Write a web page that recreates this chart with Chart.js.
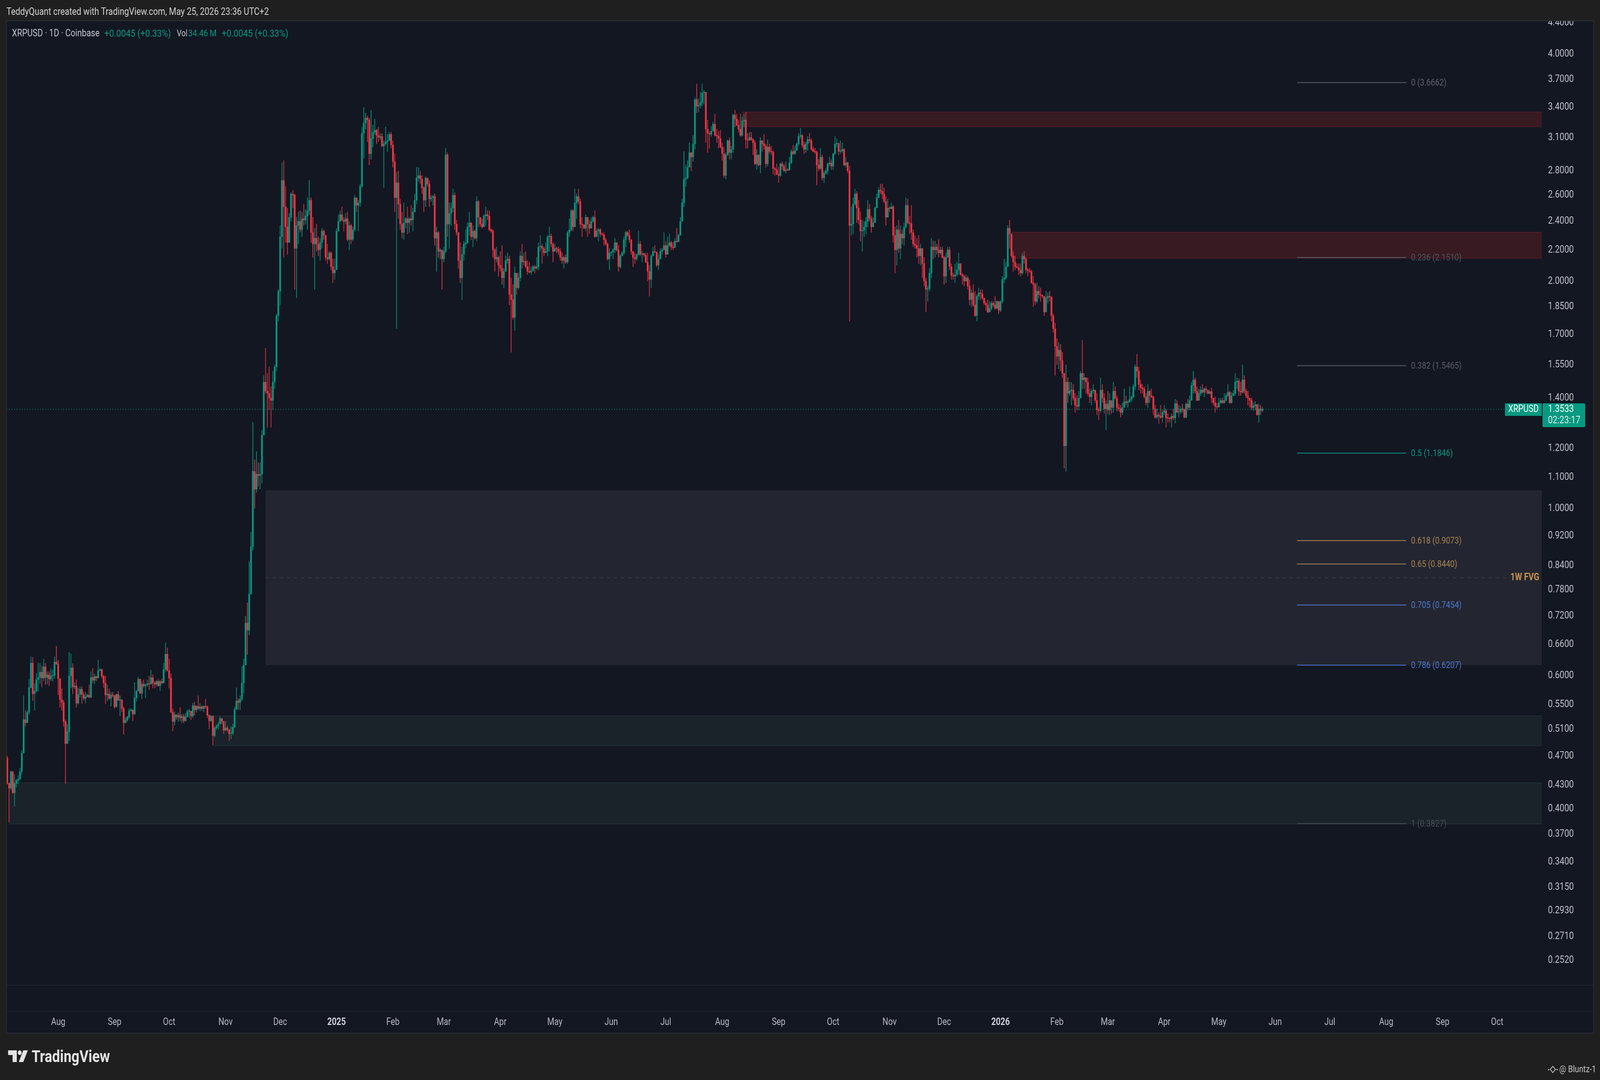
<!DOCTYPE html>
<html>
<head>
<meta charset="utf-8">
<script src="https://cdn.jsdelivr.net/npm/chart.js@4.4.1/dist/chart.umd.min.js"></script>
<style>
html,body{margin:0;padding:0;background:#1f1f1f;overflow:hidden}
#frame{position:relative;overflow:hidden}
#wrap{position:absolute;left:0;top:0;width:4950px;height:2766px;transform-origin:0 0}
canvas{display:block}
</style>
</head>
<body>
<div id="frame"><div id="wrap"><canvas id="chart" width="4950" height="2766" style="width:4950px;height:2766px"></canvas></div></div>
<script>
// XRPUSD 1D candles, one per day starting 2024-07-04 (open = previous close)
const firstDate = '2024-07-04';
const firstOpen = 0.467;
const closes = [
0.432,0.426,0.448,0.420,0.432,0.436,0.438,0.448,0.474,0.525,
0.520,0.537,0.579,0.624,0.568,0.573,0.593,0.597,0.607,0.596,
0.617,0.597,0.602,0.594,0.600,0.601,0.626,0.622,0.595,0.558,
0.553,0.522,0.488,0.506,0.600,0.615,0.580,0.582,0.552,0.567,
0.576,0.567,0.560,0.563,0.566,0.562,0.597,0.592,0.599,0.596,
0.610,0.612,0.599,0.587,0.566,0.568,0.560,0.566,0.565,0.546,
0.567,0.557,0.558,0.543,0.520,0.524,0.529,0.539,0.541,0.534,
0.561,0.573,0.594,0.569,0.585,0.582,0.584,0.586,0.585,0.597,
0.587,0.585,0.590,0.582,0.590,0.587,0.612,0.641,0.610,0.596,
0.537,0.522,0.533,0.529,0.532,0.528,0.530,0.523,0.530,0.538,
0.539,0.531,0.548,0.541,0.547,0.543,0.546,0.543,0.547,0.546,
0.532,0.523,0.531,0.500,0.512,0.515,0.518,0.527,0.522,0.508,
0.512,0.509,0.503,0.504,0.513,0.542,0.556,0.553,0.559,0.587,
0.620,0.705,0.690,0.770,0.890,1.120,1.060,1.110,1.105,1.110,
1.250,1.470,1.430,1.420,1.400,1.390,1.470,1.540,1.800,1.940,
2.290,2.720,2.510,2.360,2.250,2.430,2.610,2.600,2.210,2.370,
2.400,2.340,2.420,2.410,2.440,2.480,2.560,2.320,2.240,2.280,
2.240,2.200,2.250,2.330,2.300,2.150,2.140,2.180,2.090,2.050,
2.070,2.330,2.400,2.450,2.410,2.400,2.420,2.270,2.370,2.270,
2.340,2.580,2.520,2.540,2.670,3.140,3.240,3.290,3.270,2.950,
3.090,3.150,3.170,3.120,3.100,3.110,3.020,3.040,3.060,3.070,
3.130,3.030,2.880,2.580,2.700,2.530,2.380,2.320,2.390,2.420,
2.390,2.420,2.410,2.470,2.560,2.740,2.760,2.730,2.660,2.560,
2.740,2.690,2.570,2.580,2.590,2.280,2.320,2.190,2.200,2.140,
2.190,2.940,2.380,2.460,2.500,2.600,2.380,2.320,2.130,2.020,
2.170,2.240,2.250,2.360,2.390,2.290,2.330,2.280,2.550,2.430,
2.380,2.360,2.440,2.450,2.440,2.340,2.330,2.200,2.140,2.150,
2.100,2.080,2.020,2.060,2.130,2.140,1.920,1.890,1.790,2.050,
1.960,2.020,2.160,2.120,2.125,2.090,2.060,2.055,2.065,2.090,
2.080,2.090,2.220,2.225,2.210,2.180,2.190,2.290,2.295,2.240,
2.190,2.210,2.205,2.190,2.150,2.130,2.150,2.120,2.320,2.340,
2.480,2.360,2.540,2.590,2.550,2.380,2.375,2.350,2.430,2.380,
2.350,2.400,2.430,2.290,2.330,2.340,2.310,2.305,2.270,2.240,
2.140,2.180,2.185,2.200,2.250,2.200,2.090,2.160,2.180,2.270,
2.320,2.300,2.270,2.190,2.150,2.140,2.170,2.240,2.170,2.175,
2.165,2.120,2.060,2.010,2.160,2.190,2.185,2.100,2.140,2.190,
2.200,2.230,2.170,2.230,2.250,2.220,2.215,2.260,2.255,2.300,
2.400,2.540,2.730,2.740,2.830,2.960,2.920,3.040,3.480,3.410,
3.420,3.450,3.550,3.560,3.180,3.140,3.130,3.160,3.230,3.120,
3.115,3.090,3.010,2.950,2.760,2.940,3.070,2.960,2.990,3.320,
3.280,3.220,3.180,3.120,3.260,3.270,3.080,3.075,3.100,3.080,
3.050,2.860,2.940,2.850,3.070,3.040,3.020,2.860,3.010,2.970,
2.965,2.820,2.810,2.770,2.760,2.860,2.840,2.800,2.810,2.805,
2.870,2.970,2.950,2.980,3.040,3.110,3.120,3.030,2.990,3.040,
3.080,3.070,2.990,2.970,2.965,2.850,2.820,2.920,2.740,2.780,
2.800,2.860,2.870,2.840,2.950,3.040,3.045,2.970,2.975,2.990,
2.850,2.870,2.800,2.370,2.380,2.530,2.610,2.500,2.410,2.330,
2.335,2.360,2.400,2.490,2.420,2.360,2.390,2.500,2.580,2.640,
2.630,2.610,2.550,2.430,2.500,2.495,2.510,2.300,2.200,2.340,
2.210,2.310,2.280,2.360,2.520,2.390,2.385,2.320,2.240,2.230,
2.210,2.160,2.210,2.110,2.000,1.950,1.955,2.050,2.220,2.200,
2.220,2.200,2.180,2.200,2.150,2.030,2.150,2.200,2.090,2.035,
2.030,2.040,2.070,2.110,2.040,2.030,2.000,2.020,1.970,1.890,
1.930,1.860,1.800,1.910,1.930,1.925,1.900,1.870,1.860,1.820,
1.840,1.870,1.860,1.840,1.880,1.830,1.880,2.010,2.020,2.090,
2.350,2.310,2.160,2.120,2.090,2.085,2.070,2.050,2.160,2.140,
2.070,2.065,2.060,1.990,1.980,1.880,1.940,1.920,1.915,1.910,
1.820,1.900,1.910,1.905,1.800,1.730,1.640,1.590,1.620,1.570,
1.510,1.210,1.470,1.420,1.430,1.435,1.400,1.370,1.365,1.400,
1.510,1.480,1.490,1.470,1.420,1.405,1.430,1.435,1.390,1.350,
1.347,1.435,1.400,1.355,1.375,1.350,1.390,1.360,1.430,1.400,
1.360,1.355,1.340,1.360,1.385,1.380,1.385,1.395,1.405,1.450,
1.540,1.520,1.460,1.445,1.440,1.405,1.380,1.430,1.410,1.405,
1.355,1.320,1.330,1.325,1.320,1.340,1.347,1.318,1.316,1.314,
1.325,1.318,1.377,1.340,1.343,1.355,1.352,1.320,1.375,1.360,
1.390,1.455,1.480,1.430,1.390,1.420,1.435,1.425,1.440,1.435,
1.420,1.428,1.400,1.380,1.365,1.362,1.380,1.390,1.380,1.390,
1.410,1.425,1.380,1.410,1.420,1.470,1.475,1.430,1.425,1.480,
1.430,1.410,1.400,1.390,1.360,1.367,1.372,1.330,1.355,1.348,1.3533
];
const highs = [
0.470,0.433,0.449,0.449,0.444,0.438,0.443,0.453,0.478,0.565,
0.540,0.540,0.594,0.636,0.635,0.586,0.605,0.624,0.624,0.619,
0.632,0.624,0.608,0.608,0.613,0.611,0.636,0.657,0.629,0.595,
0.577,0.557,0.525,0.518,0.645,0.642,0.623,0.588,0.593,0.578,
0.581,0.581,0.571,0.571,0.568,0.584,0.608,0.614,0.604,0.600,
0.630,0.614,0.613,0.601,0.600,0.584,0.577,0.571,0.571,0.566,
0.568,0.573,0.565,0.558,0.546,0.529,0.531,0.543,0.543,0.541,
0.588,0.574,0.598,0.595,0.590,0.593,0.586,0.593,0.600,0.611,
0.603,0.590,0.592,0.594,0.592,0.595,0.624,0.664,0.654,0.632,
0.604,0.543,0.538,0.533,0.536,0.545,0.534,0.534,0.535,0.541,
0.542,0.539,0.552,0.554,0.548,0.565,0.552,0.548,0.548,0.559,
0.548,0.533,0.532,0.531,0.514,0.517,0.521,0.530,0.527,0.523,
0.523,0.515,0.510,0.514,0.518,0.546,0.579,0.560,0.565,0.618,
0.632,0.720,0.750,0.850,0.930,1.300,1.160,1.190,1.150,1.150,
1.270,1.500,1.630,1.510,1.540,1.450,1.520,1.550,1.810,1.950,
2.370,2.870,2.890,2.670,2.500,2.460,2.620,2.640,2.610,2.430,
2.470,2.480,2.470,2.530,2.490,2.580,2.720,2.580,2.430,2.350,
2.380,2.290,2.280,2.350,2.340,2.300,2.240,2.190,2.190,2.140,
2.140,2.350,2.450,2.480,2.510,2.430,2.460,2.470,2.400,2.380,
2.360,2.600,2.570,2.560,2.690,3.200,3.400,3.340,3.310,3.290,
3.370,3.220,3.280,3.180,3.200,3.140,3.140,3.070,3.200,3.130,
3.150,3.150,3.070,2.950,2.790,2.800,2.570,2.470,2.540,2.430,
2.510,2.430,2.520,2.500,2.610,2.830,2.830,2.800,2.760,2.670,
2.750,2.740,2.720,2.600,2.600,2.610,2.360,2.330,2.210,2.200,
2.220,3.000,2.960,2.540,2.540,2.650,2.620,2.410,2.310,2.250,
2.220,2.260,2.340,2.390,2.470,2.390,2.370,2.340,2.590,2.560,
2.430,2.420,2.450,2.510,2.480,2.480,2.350,2.340,2.210,2.220,
2.160,2.190,2.230,2.080,2.160,2.180,2.160,2.020,1.980,2.090,
2.050,2.050,2.190,2.240,2.180,2.190,2.130,2.120,2.090,2.100,
2.100,2.150,2.250,2.300,2.240,2.220,2.250,2.300,2.360,2.310,
2.250,2.240,2.220,2.220,2.210,2.180,2.160,2.170,2.330,2.420,
2.490,2.490,2.650,2.610,2.650,2.570,2.430,2.380,2.450,2.430,
2.410,2.430,2.440,2.480,2.350,2.350,2.350,2.320,2.320,2.280,
2.250,2.210,2.190,2.210,2.280,2.250,2.230,2.170,2.190,2.290,
2.330,2.330,2.340,2.270,2.190,2.180,2.175,2.330,2.260,2.190,
2.180,2.180,2.180,2.100,2.170,2.220,2.230,2.190,2.170,2.210,
2.210,2.320,2.260,2.290,2.310,2.260,2.250,2.280,2.350,2.310,
2.430,2.570,2.970,2.850,2.890,3.050,2.960,3.120,3.500,3.650,
3.490,3.560,3.650,3.580,3.550,3.270,3.160,3.210,3.250,3.330,
3.180,3.160,3.170,3.050,3.010,2.960,3.080,3.100,3.020,3.330,
3.370,3.330,3.270,3.330,3.300,3.330,3.350,3.140,3.150,3.150,
3.090,3.070,2.990,2.940,3.100,3.070,3.130,3.040,3.080,3.040,
3.020,2.980,2.830,2.860,2.830,2.870,2.880,2.860,2.880,2.820,
2.920,2.990,3.030,3.020,3.050,3.140,3.190,3.130,3.060,3.060,
3.110,3.140,3.090,3.010,3.000,2.980,2.900,3.000,2.940,2.800,
2.820,2.870,2.920,2.900,2.955,3.110,3.090,3.050,3.070,3.050,
3.000,2.920,2.880,2.840,2.510,2.580,2.650,2.630,2.560,2.470,
2.410,2.400,2.430,2.560,2.530,2.440,2.430,2.510,2.610,2.660,
2.690,2.690,2.660,2.590,2.570,2.510,2.540,2.520,2.360,2.370,
2.410,2.370,2.340,2.390,2.580,2.570,2.440,2.520,2.340,2.300,
2.280,2.300,2.240,2.210,2.150,2.020,1.970,2.080,2.280,2.260,
2.260,2.240,2.270,2.220,2.220,2.160,2.180,2.220,2.220,2.110,
2.050,2.110,2.120,2.180,2.110,2.050,2.040,2.040,2.030,2.010,
1.950,1.980,1.940,1.920,1.960,1.950,1.950,1.900,1.880,1.890,
1.880,1.880,1.880,1.910,1.885,1.880,1.885,2.030,2.140,2.120,
2.370,2.410,2.310,2.190,2.160,2.110,2.110,2.110,2.180,2.190,
2.150,2.080,2.080,2.070,2.030,1.990,1.990,1.970,1.960,1.920,
1.910,1.940,1.930,1.940,1.910,1.810,1.760,1.680,1.660,1.650,
1.610,1.510,1.550,1.490,1.470,1.470,1.460,1.420,1.410,1.430,
1.520,1.670,1.510,1.490,1.490,1.440,1.440,1.460,1.430,1.420,
1.360,1.490,1.460,1.420,1.390,1.430,1.420,1.390,1.470,1.450,
1.410,1.375,1.370,1.380,1.440,1.410,1.390,1.450,1.410,1.460,
1.550,1.600,1.540,1.480,1.460,1.450,1.420,1.460,1.435,1.440,
1.410,1.370,1.355,1.340,1.370,1.350,1.370,1.355,1.335,1.320,
1.335,1.355,1.395,1.390,1.370,1.365,1.375,1.355,1.380,1.395,
1.410,1.470,1.520,1.490,1.450,1.440,1.450,1.460,1.445,1.450,
1.435,1.435,1.445,1.400,1.405,1.380,1.400,1.400,1.400,1.420,
1.420,1.460,1.430,1.425,1.433,1.510,1.490,1.485,1.470,1.550,
1.500,1.440,1.430,1.400,1.400,1.380,1.386,1.375,1.375,1.370,1.362
];
const lows = [
0.431,0.384,0.424,0.419,0.403,0.427,0.432,0.437,0.444,0.474,
0.514,0.520,0.533,0.578,0.556,0.540,0.571,0.572,0.586,0.580,
0.591,0.584,0.585,0.582,0.591,0.590,0.595,0.621,0.566,0.545,
0.540,0.514,0.432,0.488,0.492,0.578,0.568,0.577,0.545,0.550,
0.562,0.551,0.557,0.552,0.562,0.561,0.561,0.587,0.585,0.591,
0.597,0.609,0.596,0.579,0.551,0.556,0.558,0.547,0.562,0.543,
0.545,0.556,0.531,0.538,0.502,0.520,0.522,0.527,0.539,0.523,
0.533,0.555,0.572,0.568,0.559,0.579,0.561,0.581,0.575,0.585,
0.578,0.578,0.581,0.581,0.573,0.585,0.587,0.608,0.608,0.578,
0.536,0.507,0.516,0.525,0.522,0.523,0.520,0.520,0.523,0.529,
0.528,0.525,0.528,0.532,0.537,0.541,0.539,0.540,0.537,0.543,
0.528,0.510,0.522,0.486,0.498,0.509,0.510,0.518,0.518,0.503,
0.508,0.506,0.492,0.495,0.501,0.512,0.541,0.541,0.541,0.556,
0.569,0.620,0.640,0.680,0.770,0.880,1.000,1.050,1.070,1.060,
1.080,1.250,1.420,1.280,1.350,1.280,1.350,1.440,1.520,1.770,
1.860,2.210,2.150,2.250,2.170,2.250,2.400,2.500,1.950,1.900,
2.240,2.320,2.290,2.370,2.380,2.340,2.450,2.250,2.150,1.950,
2.190,2.160,2.130,2.210,2.270,2.130,2.110,2.130,2.070,1.990,
2.010,2.070,2.330,2.400,2.400,2.330,2.380,2.260,2.200,2.240,
2.260,2.330,2.470,2.330,2.510,2.660,2.910,3.180,3.060,2.850,
2.900,3.010,3.130,3.040,3.060,3.080,3.010,2.660,3.030,2.970,
3.070,3.000,2.830,2.470,1.730,2.420,2.340,2.280,2.270,2.350,
2.310,2.320,2.370,2.330,2.470,2.530,2.710,2.690,2.610,2.470,
2.510,2.670,2.510,2.550,2.520,2.230,2.060,2.150,2.140,1.950,
2.120,2.180,2.290,2.210,2.370,2.470,2.340,2.300,2.080,1.990,
1.890,2.130,2.210,2.240,2.300,2.270,2.220,2.270,2.260,2.360,
2.360,2.350,2.360,2.370,2.410,2.330,2.320,2.150,2.060,2.120,
2.030,2.060,1.980,1.960,2.060,2.110,1.860,1.610,1.780,1.720,
1.920,1.950,2.000,2.080,2.100,2.080,2.040,2.050,2.040,2.060,
2.050,2.070,2.070,2.190,2.110,2.160,2.180,2.160,2.190,2.220,
2.120,2.190,2.180,2.170,2.130,2.110,2.080,2.110,2.110,2.290,
2.330,2.330,2.360,2.420,2.530,2.350,2.290,2.345,2.330,2.290,
2.310,2.350,2.390,2.285,2.290,2.260,2.290,2.300,2.230,2.230,
2.130,2.070,2.160,2.140,2.180,2.190,2.060,2.080,2.160,2.170,
2.220,2.290,2.250,2.170,2.090,2.110,2.130,2.160,2.160,2.120,
2.155,2.115,2.000,1.910,1.960,2.160,2.180,2.090,2.070,2.140,
2.170,2.200,2.150,2.170,2.220,2.200,2.200,2.220,2.250,2.260,
2.300,2.400,2.510,2.670,2.730,2.830,2.800,2.880,2.990,3.340,
3.350,3.390,3.410,3.430,3.050,2.960,3.000,3.110,3.160,3.110,
3.050,3.000,3.000,2.890,2.740,2.730,2.930,2.900,2.900,2.960,
3.200,3.210,3.150,3.110,3.110,3.200,3.000,3.000,3.070,3.070,
2.940,2.850,2.810,2.840,2.780,2.970,2.990,2.830,2.840,2.950,
2.940,2.770,2.760,2.765,2.700,2.750,2.810,2.790,2.780,2.800,
2.810,2.860,2.940,2.940,2.980,3.020,3.090,3.010,2.950,2.960,
2.980,3.050,2.980,2.965,2.950,2.680,2.800,2.810,2.720,2.700,
2.770,2.770,2.840,2.810,2.810,2.940,3.010,2.940,2.950,2.960,
2.840,2.830,2.780,1.770,2.300,2.310,2.520,2.390,2.380,2.260,
2.190,2.290,2.310,2.360,2.400,2.320,2.360,2.390,2.500,2.580,
2.610,2.570,2.540,2.370,2.430,2.470,2.490,2.250,2.050,2.100,
2.180,2.140,2.240,2.230,2.350,2.380,2.310,2.270,2.220,2.210,
2.150,2.110,2.100,2.020,1.970,1.820,1.880,1.940,2.020,2.140,
2.150,2.170,2.150,2.170,2.145,1.980,1.990,2.150,2.070,2.010,
2.010,1.990,2.030,2.040,2.035,1.980,1.970,2.000,1.950,1.860,
1.850,1.850,1.795,1.770,1.890,1.890,1.890,1.860,1.830,1.815,
1.820,1.830,1.850,1.835,1.840,1.810,1.820,1.870,1.990,2.010,
2.090,2.210,2.150,2.060,2.070,2.080,2.040,2.030,2.040,2.110,
2.050,2.030,2.050,1.985,1.850,1.860,1.870,1.900,1.880,1.900,
1.800,1.820,1.870,1.880,1.770,1.710,1.500,1.550,1.530,1.520,
1.490,1.130,1.120,1.380,1.410,1.370,1.390,1.340,1.350,1.350,
1.400,1.440,1.440,1.420,1.410,1.380,1.370,1.420,1.380,1.330,
1.310,1.340,1.380,1.335,1.270,1.335,1.330,1.335,1.340,1.395,
1.345,1.345,1.320,1.330,1.360,1.370,1.360,1.380,1.385,1.400,
1.435,1.490,1.435,1.420,1.420,1.400,1.370,1.360,1.380,1.400,
1.330,1.315,1.315,1.295,1.315,1.300,1.330,1.280,1.300,1.300,
1.280,1.310,1.297,1.338,1.320,1.335,1.340,1.318,1.318,1.350,
1.350,1.390,1.420,1.420,1.388,1.390,1.410,1.420,1.405,1.420,
1.417,1.417,1.380,1.370,1.340,1.355,1.360,1.377,1.377,1.378,
1.386,1.405,1.377,1.378,1.410,1.410,1.440,1.410,1.410,1.420,
1.420,1.400,1.370,1.360,1.350,1.347,1.350,1.328,1.300,1.330,1.342
];

// time axis labels (month starts)
const monthLabels = ['Aug','Sep','Oct','Nov','Dec','2025','Feb','Mar','Apr','May','Jun','Jul',
  'Aug','Sep','Oct','Nov','Dec','2026','Feb','Mar','Apr','May','Jun','Jul','Aug','Sep','Oct'];
const monthStarts = ['2024-08-01','2024-09-01','2024-10-01','2024-11-01','2024-12-01','2025-01-01',
  '2025-02-01','2025-03-01','2025-04-01','2025-05-01','2025-06-01','2025-07-01','2025-08-01',
  '2025-09-01','2025-10-01','2025-11-01','2025-12-01','2026-01-01','2026-02-01','2026-03-01',
  '2026-04-01','2026-05-01','2026-06-01','2026-07-01','2026-08-01','2026-09-01','2026-10-01'];

// price axis labels
const priceTicks = [4.4,4.0,3.7,3.4,3.1,2.8,2.6,2.4,2.2,2.0,1.85,1.7,1.55,1.4,1.2,1.1,1.0,
  0.92,0.84,0.78,0.72,0.66,0.60,0.55,0.51,0.47,0.43,0.40,0.37,0.34,0.315,0.293,0.271,0.252];

// fib retracement (0 = 3.6662, 1 = 0.3827)
const fibRatios = [0, 0.236, 0.382, 0.5, 0.618, 0.65, 0.705, 0.786, 1];
const fibPrices = [3.6662, 2.1510, 1.5465, 1.1846, 0.9073, 0.8440, 0.7454, 0.6207, 0.3827];

// zones drawn on the chart: start date, top and bottom price
const zoneStarts = ['2024-07-05','2024-10-25','2024-11-23','2025-08-12','2026-01-07'];
const zoneTops = [0.433, 0.531, 1.057, 3.349, 2.321];
const zoneBottoms = [0.382, 0.485, 0.620, 3.203, 2.145];
const zoneKinds = ['support','support','fvg','supply','supply'];

const lastPrice = 1.3533;

// ---------- layout / styles ----------
// the chart is laid out on a 4950x2766 board and stretched to whatever window we get
const W = 4950, H = 2766;
const vw = window.innerWidth || W, vh = window.innerHeight || H;
const frame = document.getElementById('frame');
frame.style.width = vw + 'px';
frame.style.height = vh + 'px';
document.getElementById('wrap').style.transform = 'scale(' + (vw / W) + ',' + (vh / H) + ')';

const DAY = 86400000;
const ref = Date.parse('2024-08-01');
const dayOf = s => (Date.parse(s) - ref) / DAY;
const d0 = dayOf(firstDate);
const UP = '#089981', DOWN = '#f23645';
const FONT = 'Roboto';

const opens = closes.map((c, i) => i === 0 ? firstOpen : closes[i - 1]);
const colors = closes.map((c, i) => c >= opens[i] ? UP : DOWN);
const bodies = closes.map((c, i) => ({x: d0 + i, y: [opens[i], c]}));
const wicks = closes.map((c, i) => ({x: d0 + i, y: [lows[i], highs[i]]}));

const fibColors = ['#5d606a','#5d606a','#5d606a',UP,'#ab8352','#ab8352','#4f7bd3','#4f7bd3','#4a4e57'];
const fibText = ['#60636c','#52555e','#5a5d66',UP,'#ab8352','#ab8352','#4f7bd3','#4f7bd3','#4a4e57'];

function fitText(c, text, x, y, width, weight, base) {
  c.font = weight + ' ' + base + 'px ' + FONT;
  const w = c.measureText(text).width;
  c.font = weight + ' ' + (base * width / w).toFixed(2) + 'px ' + FONT;
  c.fillText(text, x, y);
}

const overlay = {
  id: 'overlay',
  beforeDraw(chart) {
    const c = chart.ctx;
    c.save();
    c.fillStyle = '#1f1f1f';
    c.fillRect(0, 0, chart.width, chart.height);
    c.fillStyle = '#131722';
    c.fillRect(20, 53, 4910, 2593);
    c.restore();
  },
  beforeDatasetsDraw(chart) {
    const {ctx: c, chartArea: a, scales: {x, y}} = chart;
    c.save();
    c.beginPath();
    c.rect(a.left, a.top, a.right - a.left, 2522 - a.top);
    c.clip();
    // zones
    zoneStarts.forEach((s, i) => {
      const x0 = x.getPixelForValue(dayOf(s));
      const yt = y.getPixelForValue(zoneTops[i]);
      const yb = y.getPixelForValue(zoneBottoms[i]);
      const k = zoneKinds[i];
      c.fillStyle = k === 'supply' ? '#381a22' : k === 'fvg' ? '#232630' : '#1a2329';
      c.fillRect(x0, yt, a.right - x0, yb - yt);
      if (k !== 'fvg') {
        c.strokeStyle = k === 'supply' ? '#4e1d27' : '#212e34';
        c.lineWidth = 2;
        c.beginPath();
        c.moveTo(x0, yt); c.lineTo(a.right, yt);
        c.moveTo(x0, yb); c.lineTo(a.right, yb);
        c.stroke();
      } else {
        const ym = (yt + yb) / 2;
        c.strokeStyle = '#363a46';
        c.lineWidth = 2;
        c.setLineDash([10, 12]);
        c.beginPath(); c.moveTo(x0, ym); c.lineTo(a.right - 112, ym); c.stroke();
        c.setLineDash([]);
        c.fillStyle = '#c99350';
        c.font = 'bold 25px ' + FONT;
        c.textAlign = 'right'; c.textBaseline = 'middle';
        c.fillText('1W FVG', a.right - 8, ym);
      }
    });
    // fib levels
    const fx0 = x.getPixelForValue(dayOf('2026-06-13'));
    const fx1 = x.getPixelForValue(dayOf('2026-08-12'));
    c.textAlign = 'left'; c.textBaseline = 'middle';
    c.font = '24px ' + FONT;
    fibRatios.forEach((r, i) => {
      const yy = Math.round(y.getPixelForValue(fibPrices[i])) + 0.5;
      c.strokeStyle = fibColors[i];
      c.lineWidth = 2;
      c.beginPath(); c.moveTo(fx0, yy); c.lineTo(fx1, yy); c.stroke();
      c.fillStyle = fibText[i];
      c.fillText(r + ' (' + fibPrices[i].toFixed(4) + ')', fx1 + 15, yy + 1);
    });
    c.restore();
  },
  afterDatasetsDraw(chart) {
    const {ctx: c, chartArea: a, scales: {y}} = chart;
    const yy = Math.round(y.getPixelForValue(lastPrice)) + 0.5;
    c.save();
    c.strokeStyle = UP;
    c.lineWidth = 2;
    c.setLineDash([2, 6]);
    c.beginPath(); c.moveTo(a.left, yy); c.lineTo(4656, yy); c.stroke();
    c.restore();
  },
  afterDraw(chart) {
    const {ctx: c, chartArea: a, scales: {y}} = chart;
    c.save();
    // pane separators
    c.strokeStyle = '#1f232e';
    c.lineWidth = 2;
    c.beginPath();
    c.moveTo(20, 2523); c.lineTo(4930, 2523);
    c.moveTo(20, 2590); c.lineTo(4930, 2590);
    c.stroke();
    // frame around the chart
    c.fillStyle = '#1f1f1f';
    c.fillRect(0, 0, chart.width, 52);
    c.strokeStyle = '#2e2f34';
    c.lineWidth = 2;
    c.strokeRect(20, 53, 4910, 2593);

    // header + legend
    c.textBaseline = 'middle';
    c.textAlign = 'left';
    c.fillStyle = '#d6d6d6';
    fitText(c, 'TeddyQuant created with TradingView.com, May 25, 2026 23:36 UTC+2', 20, 32, 812, 'normal', 22);
    c.fillStyle = '#c3c6cc';
    fitText(c, 'XRPUSD \u00b7 1D \u00b7 Coinbase', 37, 87, 271, 'normal', 22);
    c.fillStyle = UP;
    fitText(c, '+0.0045 (+0.33%)', 323, 87, 206, 'normal', 22);
    c.fillStyle = '#c3c6cc';
    fitText(c, 'Vol', 547, 87, 33, 'normal', 22);
    c.fillStyle = UP;
    fitText(c, '34.46\u2009M', 582, 87, 88, 'normal', 22);
    fitText(c, '+0.0045 (+0.33%)', 686, 87, 206, 'normal', 22);

    // last price labels
    const yy = y.getPixelForValue(lastPrice);
    c.fillStyle = UP;
    c.fillRect(4656, yy - 15, 114, 32);
    c.beginPath();
    c.roundRect(4772, yy - 15, 132, 61, 4);
    c.fill();
    c.fillStyle = '#ffffff';
    c.font = '25px ' + FONT;
    c.fillText('XRPUSD', 4666, yy + 1);
    c.font = '26px ' + FONT;
    c.fillText(lastPrice.toFixed(4), 4789, yy);
    c.fillStyle = '#d8f0ea';
    c.fillText('02:23:17', 4789, yy + 29);

    // TradingView logo
    c.fillStyle = '#e4e4e4';
    c.fillRect(25, 2690, 27, 12);
    c.fillRect(39, 2690, 13, 30);
    c.beginPath(); c.arc(61, 2696, 6, 0, Math.PI * 2); c.fill();
    c.beginPath();
    c.moveTo(72, 2690); c.lineTo(86, 2690); c.lineTo(72, 2720); c.lineTo(58, 2720);
    c.closePath(); c.fill();
    c.textBaseline = 'alphabetic';
    fitText(c, 'TradingView', 98, 2720, 242, 'bold', 40);

    // author tag
    c.strokeStyle = '#c8c8c8';
    c.lineWidth = 2;
    c.beginPath();
    c.moveTo(4804, 2731); c.lineTo(4812, 2739); c.lineTo(4804, 2747); c.lineTo(4796, 2739); c.closePath();
    c.stroke();
    c.fillStyle = '#c8c8c8';
    c.fillRect(4789, 2738, 4, 3); c.fillRect(4815, 2738, 4, 3);
    c.textBaseline = 'middle';
    fitText(c, '@ Bluntz-1', 4824, 2740, 114, 'normal', 22);
    c.restore();
  }
};

Chart.defaults.font.family = FONT;
new Chart(document.getElementById('chart'), {
  type: 'bar',
  data: {
    datasets: [
      {data: bodies, backgroundColor: colors, barThickness: 4.6, minBarLength: 2, grouped: false, borderWidth: 0},
      {data: wicks, backgroundColor: colors, barThickness: 1.4, grouped: false, borderWidth: 0}
    ]
  },
  options: {
    responsive: false,
    devicePixelRatio: 1,
    animation: false,
    events: [],
    layout: {padding: {left: 20, top: 53, right: 20, bottom: 120}},
    plugins: {legend: {display: false}, tooltip: {enabled: false}},
    scales: {
      x: {
        type: 'linear', min: -28.43, max: 815.56, bounds: 'data', offset: false,
        grid: {display: false, drawTicks: false, offset: false},
        border: {display: false},
        afterBuildTicks: s => { s.ticks = monthStarts.map(m => ({value: dayOf(m)})); },
        afterFit: s => { s.height = 56; },
        ticks: {
          autoSkip: false, maxRotation: 0, padding: 14,
          color: ctx => /^\d{4}$/.test(monthLabels[ctx.index]) ? '#d1d4dc' : '#b8bbc2',
          font: ctx => ({family: FONT, size: 25, weight: /^\d{4}$/.test(monthLabels[ctx.index]) ? 'bold' : 'normal'}),
          callback: (v, i) => monthLabels[i]
        }
      },
      y: {
        type: 'logarithmic', position: 'right', min: 0.2157, max: 4.4263, bounds: 'data',
        grid: {display: false, drawTicks: false},
        border: {display: false},
        afterBuildTicks: s => { s.ticks = priceTicks.map(v => ({value: v})); },
        afterFit: s => { s.width = 160; },
        ticks: {
          autoSkip: false, padding: 19, color: '#c2c4ca',
          font: {family: FONT, size: 26},
          callback: v => Number(v).toFixed(4)
        }
      }
    }
  },
  plugins: [overlay]
});
</script>
</body>
</html>
